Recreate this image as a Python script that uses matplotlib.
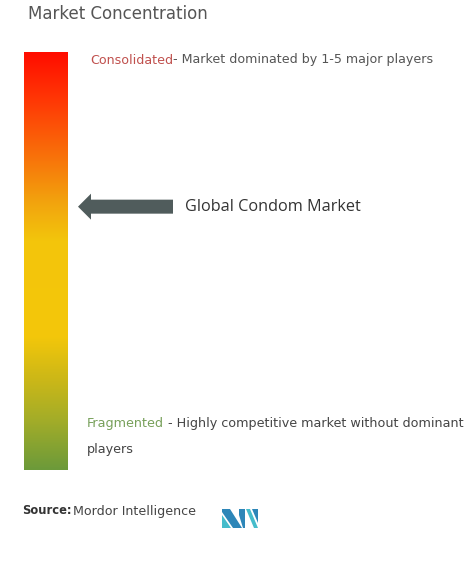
import numpy as np
import matplotlib
matplotlib.use('Agg')
import matplotlib.pyplot as plt
from matplotlib.colors import LinearSegmentedColormap
from matplotlib.patches import FancyArrow, Polygon

# gradient of the concentration bar, top (consolidated) to bottom (fragmented)
stop_pos = [0.0, 0.12, 0.25, 0.36, 0.45, 0.68, 0.78, 0.88, 1.0]
stop_colors = ['#ff0d00', '#ff3a05', '#f8720a', '#f2a40e', '#f3c50c', '#f4c70a', '#cdb817', '#a4ad28', '#6c9a3a']

title = 'Market Concentration'
top_label = 'Consolidated'
top_desc = '- Market dominated by 1-5 major players'
bottom_label = 'Fragmented'
bottom_desc = ' - Highly competitive market without dominant'
bottom_desc2 = 'players'
market = 'Global Condom Market'
market_level = 0.37  # position along the bar, 0 = top
source = 'Mordor Intelligence'

W, H = 474, 575
fig = plt.figure(figsize=(W / 100, H / 100), dpi=100)
ax = fig.add_axes([0, 0, 1, 1])
ax.set_xlim(0, W)
ax.set_ylim(H, 0)
ax.axis('off')

font = 'DejaVu Sans'


def right_edge(t):
    fig.canvas.draw()
    bb = t.get_window_extent()
    return ax.transData.inverted().transform((bb.x1, 0))[0]


ax.text(28, 14, title, fontsize=12, color='#555555', va='center', family=font)

# gradient bar
bar_top, bar_bot, bar_l, bar_r = 52, 470, 24, 68
cmap = LinearSegmentedColormap.from_list('conc', list(zip(stop_pos, stop_colors)))
grad = np.linspace(0, 1, 256).reshape(-1, 1)
ax.imshow(grad, cmap=cmap, aspect='auto', extent=(bar_l, bar_r, bar_bot, bar_top), interpolation='bilinear')

# labels at both ends
t = ax.text(90, 60, top_label, fontsize=9.1, color='#c0504d', va='center', family=font)
ax.text(right_edge(t), 60, top_desc, fontsize=9.1, color='#555555', va='center', family=font)

t = ax.text(87, 424, bottom_label, fontsize=9.2, color='#77a05a', va='center', family=font)
ax.text(right_edge(t), 424, bottom_desc, fontsize=9.2, color='#444444', va='center', family=font)
ax.text(87, 450, bottom_desc2, fontsize=9.2, color='#444444', va='center', family=font)

# arrow pointing at the market's place on the bar
ay = bar_top + market_level * (bar_bot - bar_top)
ax.add_patch(FancyArrow(173, ay, -95, 0, width=14, head_width=26, head_length=13,
                        length_includes_head=True, color='#505c5c', lw=0))
ax.text(185, ay, market, fontsize=11.7, color='#333333', va='center', family='Open Sans')

# source line and logo
t = ax.text(22, 511, 'Source:', fontsize=8.3, color='#333333', va='center', weight='bold', family=font)
ax.text(right_edge(t) + 2, 511, source, fontsize=9.1, color='#444444', va='center', family=font)

lx, ly, lh = 222, 509, 19
dark, light = '#2d86b8', '#45bccb'
ax.add_patch(Polygon([(lx, ly + 6), (lx + 9, ly + lh), (lx, ly + lh)], color=light, lw=0))
ax.add_patch(Polygon([(lx, ly), (lx + 8, ly), (lx + 20, ly + lh), (lx + 11, ly + lh), (lx, ly + 3)], color=dark, lw=0))
ax.add_patch(Polygon([(lx + 17, ly), (lx + 23, ly), (lx + 23, ly + lh), (lx + 21, ly + lh), (lx + 17, ly + 6)], color=dark, lw=0))
ax.add_patch(Polygon([(lx + 24, ly), (lx + 28, ly), (lx + 36, ly + lh), (lx + 32, ly + lh)], color=light, lw=0))
ax.add_patch(Polygon([(lx + 30, ly), (lx + 36, ly), (lx + 36, ly + 14)], color=dark, lw=0))

fig.savefig('out.png', dpi=100, facecolor='white')
